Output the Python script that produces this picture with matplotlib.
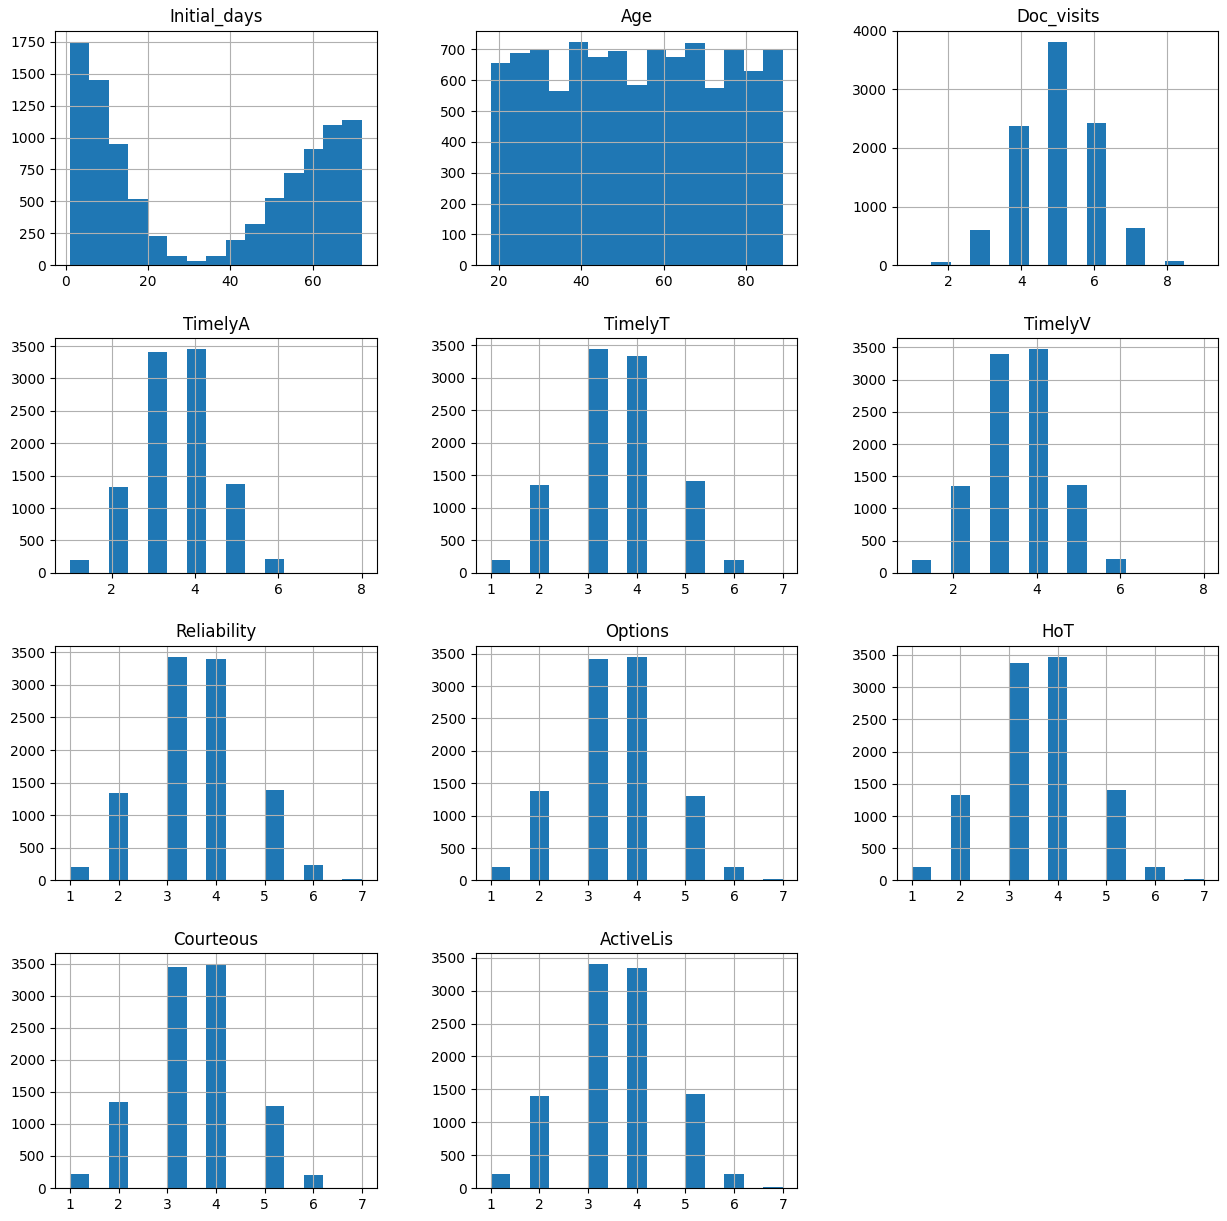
import numpy as np
import matplotlib
matplotlib.use("Agg")
import matplotlib.pyplot as plt

# Continuous columns: range and 15 bin counts
init_range = (1, 72)
init_counts = [1750, 1450, 950, 520, 230, 70, 30, 75, 200, 320, 530, 720, 910, 1100, 1140]
age_range = (18, 89)
age_counts = [655, 690, 700, 565, 725, 675, 695, 585, 700, 675, 720, 575, 700, 630, 700]

# Discrete columns: values and counts
doc_vals = [1, 2, 3, 4, 5, 6, 7, 8, 9]
doc_counts = [5, 55, 600, 2380, 3810, 2430, 630, 70, 3]
v8 = [1, 2, 3, 4, 5, 6, 7, 8]
v7 = [1, 2, 3, 4, 5, 6, 7]
timelyA = [200, 1320, 3410, 3450, 1370, 220, 5, 1]
timelyT = [200, 1350, 3440, 3340, 1420, 200, 5]
timelyV = [200, 1350, 3390, 3470, 1360, 220, 5, 1]
reliab = [210, 1340, 3430, 3400, 1380, 230, 20]
options = [210, 1380, 3420, 3450, 1300, 210, 20]
hot = [210, 1330, 3380, 3470, 1400, 210, 20]
courteous = [220, 1340, 3450, 3490, 1280, 200, 5]
activelis = [210, 1400, 3400, 3340, 1430, 210, 20]

fig, axes = plt.subplots(4, 3, figsize=(12.27, 12.21), dpi=100)
plt.subplots_adjust(left=0.045, right=0.993, top=0.975, bottom=0.027, wspace=0.31, hspace=0.31)
axs = axes.ravel()

def cont(ax, rng, counts, title):
    edges = np.linspace(rng[0], rng[1], len(counts) + 1)
    centers = (edges[:-1] + edges[1:]) / 2
    ax.hist(centers, bins=edges, weights=counts, color="#1f77b4")
    ax.set_title(title)
    ax.grid(True)

def disc(ax, vals, counts, title):
    ax.hist(vals, bins=15, range=(min(vals), max(vals)), weights=counts, color="#1f77b4")
    ax.set_title(title)
    ax.grid(True)

cont(axs[0], init_range, init_counts, "Initial_days")
cont(axs[1], age_range, age_counts, "Age")
disc(axs[2], doc_vals, doc_counts, "Doc_visits")
disc(axs[3], v8, timelyA, "TimelyA")
disc(axs[4], v7, timelyT, "TimelyT")
disc(axs[5], v8, timelyV, "TimelyV")
disc(axs[6], v7, reliab, "Reliability")
disc(axs[7], v7, options, "Options")
disc(axs[8], v7, hot, "HoT")
disc(axs[9], v7, courteous, "Courteous")
disc(axs[10], v7, activelis, "ActiveLis")
axs[11].set_visible(False)

fig.savefig("out.png", dpi=100)
